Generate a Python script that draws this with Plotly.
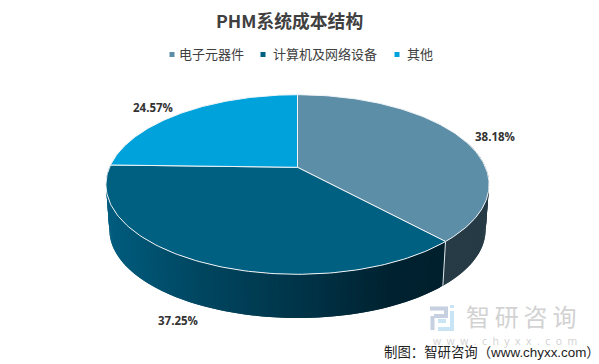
import math
import plotly.graph_objects as go

title_text = "PHM系统成本结构"
categories = ["电子元器件", "计算机及网络设备", "其他"]
shares = [38.18, 37.25, 24.57]
share_labels = ["38.18%", "37.25%", "24.57%"]
top_colors = ["#5c8ea8", "#006082", "#00a2dc"]
source_text = "制图：智研咨询（www.chyxx.com）"

W, H = 599, 364
CX, CY = 297.5, 167.3
A, B, P = 188.0, 86.5, 0.1916
BOTTOM_SCALE, BOTTOM_DROP = 0.982, 45.6


def project(frac, bottom=False):
    t = 2 * math.pi * frac
    X, Y = math.sin(t), math.cos(t)
    s = 1 / (1 + P * Y)
    k, d = (BOTTOM_SCALE, BOTTOM_DROP) if bottom else (1.0, 0.0)
    return CX + k * A * X * s, CY + d - k * B * Y * s


def mix(stops, x):
    for (x0, c0), (x1, c1) in zip(stops, stops[1:]):
        if x <= x1:
            u = max(0.0, (x - x0) / (x1 - x0))
            return "rgb(%d,%d,%d)" % tuple(round(a + (b - a) * u) for a, b in zip(c0, c1))
    return "rgb(%d,%d,%d)" % stops[-1][1]


blue_side = [(107, (0, 92, 126)), (200, (0, 70, 96)), (300, (0, 52, 72)), (390, (0, 34, 48)), (445, (0, 32, 45))]
grey_side = [(440, (38, 59, 69)), (490, (38, 59, 69))]
side_stops = [grey_side, blue_side, blue_side]

total = sum(shares)
edges = [0.0]
for v in shares:
    edges.append(edges[-1] + v / total)

fig = go.Figure()

# side wall: each facet overlaps the next so that no seams show
for i in [0, 1]:
    f0, f1 = edges[i], edges[i + 1]
    n = max(2, int((f1 - f0) * 300))
    step = (f1 - f0) / n
    for j in range(n):
        a, b = f0 + step * j, f0 + step * (j + 1)
        if math.cos(2 * math.pi * (a + b) / 2) > 0.3:
            continue
        b2 = min(b + step, f1)
        p = [project(a), project(b2), project(b2, True), project(a, True)]
        col = mix(side_stops[i], (project(a)[0] + project(b)[0]) / 2)
        fig.add_trace(go.Scatter(x=[q[0] for q in p] + [p[0][0]], y=[q[1] for q in p] + [p[0][1]],
                                 mode="lines", fill="toself", fillcolor=col,
                                 line=dict(color=col, width=0), hoverinfo="skip", showlegend=False))

# white edge on the wall between slices
p0, p1 = project(edges[1]), project(edges[1], True)
fig.add_trace(go.Scatter(x=[p0[0], p1[0]], y=[p0[1], p1[1]], mode="lines",
                         line=dict(color="#dfe6ea", width=1), hoverinfo="skip", showlegend=False))

# top faces
for i in range(3):
    f0, f1 = edges[i], edges[i + 1]
    n = 120
    pts = [project(f0 + (f1 - f0) * j / n) for j in range(n + 1)]
    xs = [CX] + [q[0] for q in pts] + [CX]
    ys = [CY] + [q[1] for q in pts] + [CY]
    fig.add_trace(go.Scatter(x=xs, y=ys, mode="lines", fill="toself", fillcolor=top_colors[i],
                             line=dict(color="#f0f4f6", width=1), name=categories[i],
                             text=share_labels[i], hoverinfo="name+text", showlegend=False))

# legend markers
legend_x = [172, 263, 397]
legend_text_x = [177, 271, 404.5]
fig.add_trace(go.Scatter(x=legend_x, y=[54.5] * 3, mode="markers",
                         marker=dict(symbol="square", size=5, color=top_colors),
                         hoverinfo="skip", showlegend=False))

cjk = "Noto Sans CJK SC"
ann = []
for c, x in zip(categories, legend_text_x):
    ann.append(dict(x=x, y=53, text=c, xanchor="left", yanchor="middle", showarrow=False,
                    font=dict(family=cjk, size=13, color="#404040")))
ann.append(dict(x=289.5, y=19.5, text="<b>%s</b>" % title_text, xanchor="center", yanchor="middle", showarrow=False,
                font=dict(family=cjk, size=17.8, color="#404040")))
for t, x, y in zip(share_labels, [494.5, 178, 153], [136.5, 320.5, 107]):
    ann.append(dict(x=x, y=y, text="<b>%s</b>" % t, xanchor="center", yanchor="middle", showarrow=False,
                    font=dict(family="Open Sans", size=11.5, color="#333333")))
ann.append(dict(x=521, y=315.5, text="智\u2009研\u2009咨\u2009询", xanchor="center", yanchor="middle", showarrow=False,
                font=dict(family=cjk, size=24, color="#d2d2d2")))
ann.append(dict(x=505, y=340.5, text="w  w  w  .  c  h  y  x  x  .  c  o  m", xanchor="center", yanchor="middle",
                showarrow=False, font=dict(family="Open Sans", size=10.5, color="#d2d2d2")))
ann.append(dict(x=382, y=352, text=source_text, xanchor="left", yanchor="middle", showarrow=False,
                font=dict(family="Liberation Sans, " + cjk, size=13.4, color="#222222")))

# watermark logo
logo_grey = "#c6d0e0"
logo_blue = "#c9e4f4"
shapes = []
for path, col in [("M430,308.5 L446,308.5 L446,316 L434,316", logo_grey),
                  ("M432.5,316 L432.5,330", logo_grey),
                  ("M452,305 L452,308", logo_blue),
                  ("M452,311 L452,329 L438,329", logo_blue),
                  ("M438,321 L446,321", logo_blue)]:
    shapes.append(dict(type="path", path=path, line=dict(color=col, width=4), layer="below"))

fig.update_layout(
    width=W, height=H, margin=dict(l=0, r=0, t=0, b=0), showlegend=False,
    paper_bgcolor="white", plot_bgcolor="white",
    xaxis=dict(range=[0, W], visible=False, fixedrange=True),
    yaxis=dict(range=[H, 0], visible=False, fixedrange=True),
    annotations=ann, shapes=shapes,
)
fig.write_html("out.html", config=dict(displayModeBar=False),
               post_script="document.body.style.margin='0';document.body.style.overflow='hidden';")
